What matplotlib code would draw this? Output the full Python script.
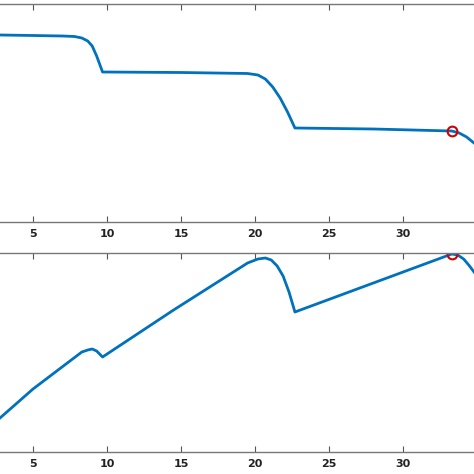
import matplotlib
matplotlib.use("Agg")
import matplotlib.pyplot as plt

# top curve (x, value)
top_x = [2.77, 5, 7, 7.8, 8.3, 8.7, 9.0, 9.3, 9.5, 9.7, 15, 19.5, 20.2, 20.7, 21.2, 21.7, 22.2, 22.7, 28, 33.3, 33.8, 34.3, 34.8]
top_y = [187, 186.5, 186, 185.5, 184, 181, 176, 166, 158, 150, 149.5, 148.5, 147, 143, 135, 124, 110, 94, 93, 91, 89, 85, 79]
# bottom curve
bot_x = [2.77, 5, 8.3, 8.7, 9.0, 9.3, 9.7, 14.5, 19.5, 20.2, 20.7, 21.1, 21.5, 21.9, 22.3, 22.7, 28, 33.3, 33.7, 34.1, 34.5, 34.8]
bot_y = [34, 63, 100, 102, 103, 101, 95, 142, 189, 193, 194, 192, 186, 176, 160, 140, 169, 198, 197, 193, 186, 180]
mark_x = 33.3
mark_top = 91
mark_bot = 198

blue = "#0072BD"
fig = plt.figure(figsize=(4.74, 4.74), dpi=100)
ax1 = fig.add_axes([0, 1 - 222 / 474, 1, 218 / 474])
ax2 = fig.add_axes([0, 1 - 452 / 474, 1, 199 / 474])

for ax, xs, ys, my, top in [(ax1, top_x, top_y, mark_top, 218), (ax2, bot_x, bot_y, mark_bot, 199)]:
    ax.plot(xs, ys, color=blue, lw=2)
    ax.plot([mark_x], [my], "o", mfc="none", mec="#D00000", mew=1.5, ms=7)
    ax.set_xlim(2.77, 34.8)
    ax.set_ylim(0, top)
    ax.set_xticks([5, 10, 15, 20, 25, 30])
    ax.set_yticks([])
    ax.tick_params(axis="x", direction="in", top=True, length=4, color="#555555",
                   labelsize=8, pad=5)
    for lab in ax.get_xticklabels():
        lab.set_fontweight("bold")
        lab.set_color("#222222")
    for s in ax.spines.values():
        s.set_color("#777777")
        s.set_linewidth(1)
    ax.spines["left"].set_visible(False)
    ax.spines["right"].set_visible(False)

fig.savefig("out.png", dpi=100)
